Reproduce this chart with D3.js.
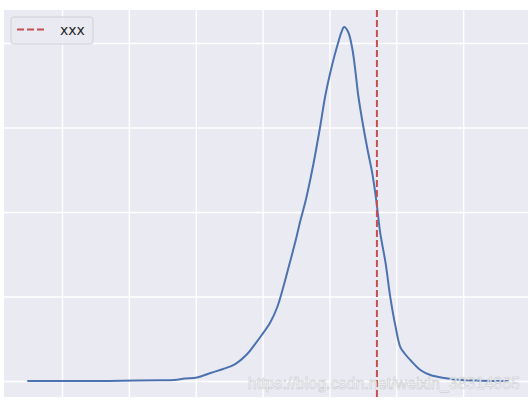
<!DOCTYPE html>
<html>
<head>
<meta charset="utf-8">
<script src="https://cdn.jsdelivr.net/npm/d3@7"></script>
<style>
  body { margin: 0; background: #fff; }
  svg { display: block; }
</style>
</head>
<body>
<div class="container"></div>
<script>
// kde curve
var xs = [0.48, 0.97, 1.57, 2.11, 2.47, 2.68, 2.84, 3.02, 3.22, 3.41, 3.59, 3.77, 3.89, 3.96,
    4.11, 4.22, 4.31, 4.41, 4.50, 4.56, 4.65, 4.76, 4.86, 4.94, 5.04, 5.12, 5.18, 5.22,
    5.28, 5.34, 5.39, 5.43, 5.51, 5.58, 5.64, 5.70, 5.76, 5.84, 5.91, 5.99, 6.06, 6.13,
    6.21, 6.36, 6.51, 6.72, 6.97, 7.26, 7.68];
var density = [0, 0, 0, 0.0006, 0.0008, 0.0012, 0.0030, 0.0041, 0.0095, 0.0142, 0.0201, 0.0320, 0.0440, 0.0515,
    0.0686, 0.0876, 0.1112, 0.1408, 0.1680, 0.1882, 0.2154, 0.2568, 0.3006, 0.3385, 0.3740, 0.3976, 0.4130, 0.4189,
    0.4130, 0.3941, 0.3657, 0.3385, 0.2994, 0.2698, 0.2462, 0.2142, 0.1751, 0.1396, 0.0994, 0.0639, 0.0402, 0.0320,
    0.0249, 0.0130, 0.0071, 0.0036, 0.0012, 0.0004, 0];
var markX = 5.71;
var legendLabel = "xxx";
var xTicks = [1, 2, 3, 4, 5, 6, 7];
var yTicks = [0, 0.1, 0.2, 0.3, 0.4];

var width = 532, height = 404;
var margin = { top: 10, right: 4, bottom: 7, left: 4 };

var svg = d3.select('.container')
    .append('svg')
    .attr('width', width)
    .attr('height', height)
    .style('font-family', 'DejaVu Sans, sans-serif');

var x = d3.scaleLinear().domain([0.132, 7.97]).range([margin.left, width - margin.right]);
var y = d3.scaleLinear().domain([-0.0189, 0.4391]).range([height - margin.bottom, margin.top]);

// seaborn darkgrid background
svg.append('rect')
    .attr('x', x.range()[0])
    .attr('y', y.range()[1])
    .attr('width', x.range()[1] - x.range()[0])
    .attr('height', y.range()[0] - y.range()[1])
    .attr('fill', '#eaeaf2');

svg.append('g')
    .attr('transform', 'translate(0,' + y.range()[0] + ')')
    .call(d3.axisBottom(x).tickValues(xTicks).tickSize(-(y.range()[0] - y.range()[1])).tickFormat(''))
    .call(function (g) { g.select('.domain').remove(); })
    .selectAll('line').attr('stroke', '#fff').attr('stroke-width', 1.4);

svg.append('g')
    .attr('transform', 'translate(' + x.range()[0] + ',0)')
    .call(d3.axisLeft(y).tickValues(yTicks).tickSize(-(x.range()[1] - x.range()[0])).tickFormat(''))
    .call(function (g) { g.select('.domain').remove(); })
    .selectAll('line').attr('stroke', '#fff').attr('stroke-width', 1.4);

var points = xs.map(function (v, i) { return [v, density[i]]; });

var line = d3.line()
    .x(function (d) { return x(d[0]); })
    .y(function (d) { return y(d[1]); })
    .curve(d3.curveCatmullRom.alpha(0.5));

svg.append('path')
    .datum(points)
    .attr('d', line)
    .attr('fill', 'none')
    .attr('stroke', '#4c72b0')
    .attr('stroke-width', 2);

svg.append('line')
    .attr('x1', x(markX)).attr('x2', x(markX))
    .attr('y1', y.range()[0]).attr('y2', y.range()[1])
    .attr('stroke', '#c44e52')
    .attr('stroke-width', 2)
    .attr('stroke-dasharray', '7,3');

// legend
var lg = svg.append('g').attr('transform', 'translate(11,17)');
lg.append('rect')
    .attr('width', 82).attr('height', 27)
    .attr('rx', 3)
    .attr('fill', '#eaeaf2')
    .attr('fill-opacity', 0.8)
    .attr('stroke', '#d0d0d6');
lg.append('line')
    .attr('x1', 6).attr('x2', 36).attr('y1', 12.5).attr('y2', 12.5)
    .attr('stroke', '#c44e52')
    .attr('stroke-width', 2)
    .attr('stroke-dasharray', '7,3');
lg.append('text')
    .attr('x', 49).attr('y', 18)
    .attr('font-size', 14)
    .attr('fill', '#262626')
    .text(legendLabel);

// watermark
svg.append('text')
    .attr('x', 520).attr('y', 389)
    .attr('text-anchor', 'end')
    .attr('font-size', 16)
    .attr('font-family', 'Liberation Sans, Arial, sans-serif')
    .attr('fill', '#ffffff')
    .attr('fill-opacity', 0.85)
    .attr('stroke', '#c4c4ca')
    .attr('stroke-width', 0.5)
    .text('https://blog.csdn.net/weixin_38314865');
</script>
</body>
</html>
